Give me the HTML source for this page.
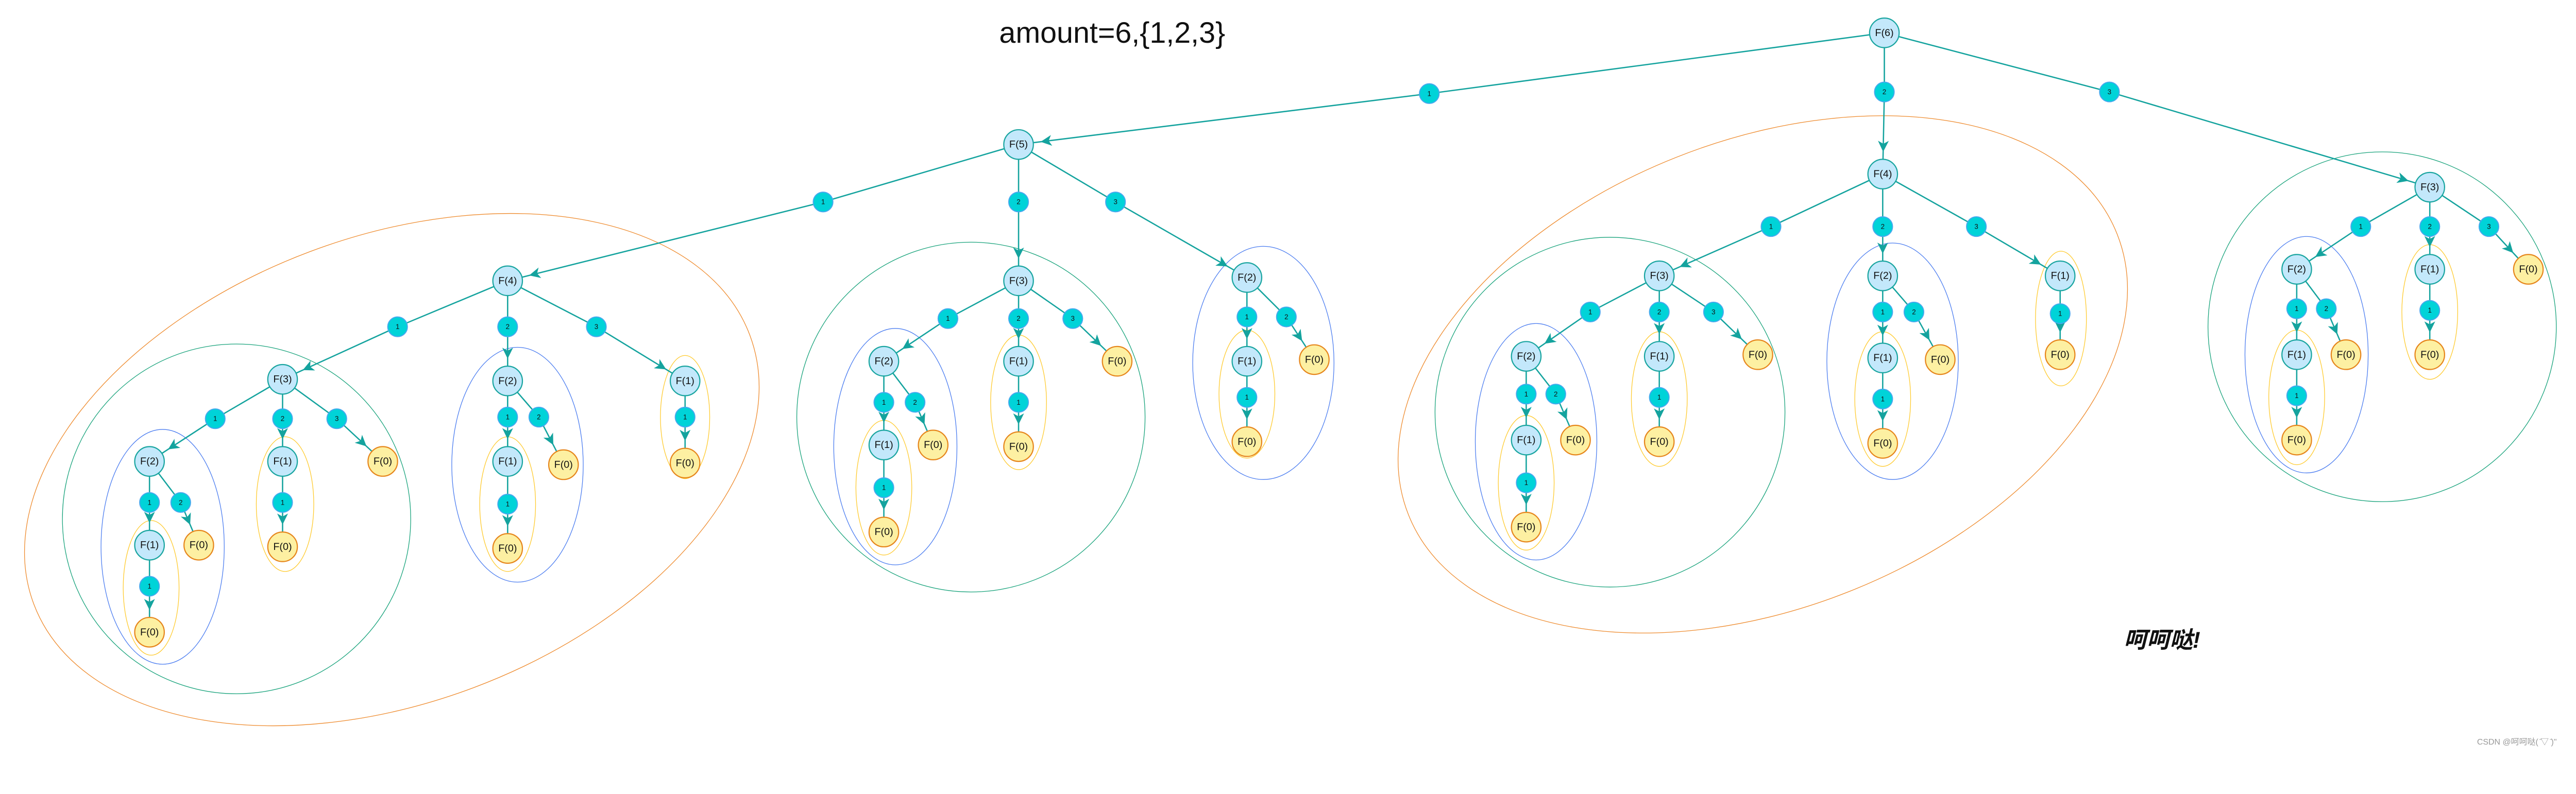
<!DOCTYPE html>
<html><head><meta charset="utf-8"><style>
html,body{margin:0;padding:0;background:#fff;width:100%;height:100%;overflow:hidden;}
svg{display:block;position:absolute;left:0;top:0;width:100vw;height:calc(100vw * 0.291604);}
.e{fill:none;stroke:#14a39e;stroke-width:0.8;marker-end:url(#ar);}
.n{fill:#c3e8fb;stroke:#19a5a0;stroke-width:0.7;}
.z{fill:#fdf0a2;stroke:#e6861c;stroke-width:0.7;}
.l{fill:#00d3d8;stroke:#48a8ee;stroke-width:0.6;}
.t{font-family:"Liberation Sans","DejaVu Sans",sans-serif;font-size:6.2px;fill:#111;text-anchor:middle;dominant-baseline:central;}
.s{font-family:"Liberation Sans","DejaVu Sans",sans-serif;font-size:4.2px;fill:#111;text-anchor:middle;dominant-baseline:central;}
.go{fill:none;stroke:#ee8a2c;stroke-width:0.4;}
.gg{fill:none;stroke:#16a27a;stroke-width:0.4;}
.gb{fill:none;stroke:#4a7cf0;stroke-width:0.4;}
.gy{fill:none;stroke:#ffca2c;stroke-width:0.4;}
</style></head><body>
<svg viewBox="0 0 1568 457.2" preserveAspectRatio="none" xmlns="http://www.w3.org/2000/svg">
<defs><marker id="ar" markerUnits="userSpaceOnUse" orient="auto" refX="0" refY="0" markerWidth="30" markerHeight="30" viewBox="-20 -5 20 10" overflow="visible"><path d="M-13.5,-2.2 L-9,0 L-13.5,2.2 L-12.3,0 Z" fill="#14a39e"/></marker></defs>

<text x="677" y="20" style="font-family:'Liberation Sans',sans-serif;font-size:18px;fill:#111;text-anchor:middle;dominant-baseline:central;">amount=6,{1,2,3}</text>
<text x="1316" y="390" style="font-family:'Liberation Sans','Noto Sans CJK SC',sans-serif;font-size:14px;font-style:italic;font-weight:bold;fill:#111;text-anchor:middle;dominant-baseline:central;">呵呵哒!</text>
<text x="1532" y="452" style="font-family:'Liberation Sans','Noto Sans CJK SC',sans-serif;font-size:5px;fill:#999;text-anchor:middle;dominant-baseline:central;">CSDN @呵呵哒( ̄▽ ̄)"</text>

<ellipse class="go" cx="238.5" cy="286" rx="232.8" ry="141.8" transform="rotate(-20.6 238.5 286)"/>
<ellipse class="go" cx="1073" cy="228" rx="232" ry="142.3" transform="rotate(-21.6 1073 228)"/>
<ellipse class="gg" cx="144" cy="316" rx="106" ry="106.5"/>
<ellipse class="gg" cx="591" cy="254" rx="106" ry="106.5"/>
<ellipse class="gg" cx="980" cy="251" rx="106.5" ry="106.5"/>
<ellipse class="gg" cx="1450" cy="199" rx="106" ry="106.5"/>
<ellipse class="gb" cx="99" cy="333" rx="37.5" ry="71.5"/>
<ellipse class="gb" cx="315" cy="283" rx="40" ry="71.5"/>
<ellipse class="gb" cx="545" cy="272" rx="37.5" ry="72"/>
<ellipse class="gb" cx="769" cy="221" rx="43" ry="71"/>
<ellipse class="gb" cx="935" cy="269" rx="37" ry="72"/>
<ellipse class="gb" cx="1152" cy="220" rx="40" ry="72"/>
<ellipse class="gb" cx="1404" cy="216" rx="37.5" ry="72"/>
<ellipse class="gy" cx="92" cy="358" rx="17" ry="41"/>
<ellipse class="gy" cx="173.5" cy="307" rx="17.5" ry="41"/>
<ellipse class="gy" cx="309" cy="307" rx="17" ry="41"/>
<ellipse class="gy" cx="417" cy="254" rx="15" ry="37.5"/>
<ellipse class="gy" cx="538" cy="297" rx="17" ry="41"/>
<ellipse class="gy" cx="620" cy="245" rx="17" ry="41"/>
<ellipse class="gy" cx="759" cy="240" rx="17" ry="39"/>
<ellipse class="gy" cx="929" cy="294" rx="17" ry="41"/>
<ellipse class="gy" cx="1010" cy="243" rx="17" ry="41"/>
<ellipse class="gy" cx="1146" cy="243" rx="17" ry="41"/>
<ellipse class="gy" cx="1254.5" cy="194" rx="15.5" ry="41"/>
<ellipse class="gy" cx="1398" cy="242" rx="17" ry="41"/>
<ellipse class="gy" cx="1479" cy="190" rx="17" ry="41"/>

<polyline class="e" points="1147,20 870,57 620,88"/>
<polyline class="e" points="1147,20 1147,56 1146,106"/>
<polyline class="e" points="1147,20 1284,56 1479,114"/>
<polyline class="e" points="620,88 501,123 309,171"/>
<polyline class="e" points="620,88 620,123 620,171"/>
<polyline class="e" points="620,88 679,123 759,169"/>
<polyline class="e" points="309,171 242,199 172,231"/>
<polyline class="e" points="309,171 309,199 309,232"/>
<polyline class="e" points="309,171 363,199 417,232"/>
<polyline class="e" points="172,231 131,255 91,281"/>
<polyline class="e" points="172,231 172,255 172,281"/>
<polyline class="e" points="172,231 205,255 233,281"/>
<polyline class="e" points="91,281 91,306 91,332"/>
<polyline class="e" points="91,281 110,306 121,332"/>
<polyline class="e" points="91,332 91,357 91,385"/>
<polyline class="e" points="172,281 172,306 172,333"/>
<polyline class="e" points="309,232 309,254 309,281"/>
<polyline class="e" points="309,232 328,254 343,283"/>
<polyline class="e" points="309,281 309,307 309,334"/>
<polyline class="e" points="417,232 417,254 417,282"/>
<polyline class="e" points="620,171 577,194 538,220"/>
<polyline class="e" points="620,171 620,194 620,220"/>
<polyline class="e" points="620,171 653,194 680,220"/>
<polyline class="e" points="538,220 538,245 538,271"/>
<polyline class="e" points="538,220 557,245 568,271"/>
<polyline class="e" points="538,271 538,297 538,324"/>
<polyline class="e" points="620,220 620,245 620,272"/>
<polyline class="e" points="759,169 759,193 759,220"/>
<polyline class="e" points="759,169 783,193 800,219"/>
<polyline class="e" points="759,220 759,242 759,269"/>
<polyline class="e" points="1146,106 1078,138 1010,168"/>
<polyline class="e" points="1146,106 1146,138 1146,168"/>
<polyline class="e" points="1146,106 1203,138 1254,168"/>
<polyline class="e" points="1010,168 968,190 929,217"/>
<polyline class="e" points="1010,168 1010,190 1010,217"/>
<polyline class="e" points="1010,168 1043,190 1070,216"/>
<polyline class="e" points="929,217 929,240 929,268"/>
<polyline class="e" points="929,217 947,240 959,268"/>
<polyline class="e" points="929,268 929,294 929,321"/>
<polyline class="e" points="1010,217 1010,242 1010,269"/>
<polyline class="e" points="1146,168 1146,190 1146,218"/>
<polyline class="e" points="1146,168 1165,190 1181,219"/>
<polyline class="e" points="1146,218 1146,243 1146,270"/>
<polyline class="e" points="1254,168 1254,191 1254,216"/>
<polyline class="e" points="1479,114 1437,138 1398,164"/>
<polyline class="e" points="1479,114 1479,138 1479,164"/>
<polyline class="e" points="1479,114 1515,138 1539,164"/>
<polyline class="e" points="1398,164 1398,188 1398,216"/>
<polyline class="e" points="1398,164 1416,188 1428,216"/>
<polyline class="e" points="1398,216 1398,241 1398,268"/>
<polyline class="e" points="1479,164 1479,189 1479,216"/>

<g>
<circle class="l" cx="870" cy="57" r="6"/><text class="s" x="870" y="57">1</text>
<circle class="l" cx="1147" cy="56" r="6"/><text class="s" x="1147" y="56">2</text>
<circle class="l" cx="1284" cy="56" r="6"/><text class="s" x="1284" y="56">3</text>
<circle class="l" cx="501" cy="123" r="6"/><text class="s" x="501" y="123">1</text>
<circle class="l" cx="620" cy="123" r="6"/><text class="s" x="620" y="123">2</text>
<circle class="l" cx="679" cy="123" r="6"/><text class="s" x="679" y="123">3</text>
<circle class="l" cx="242" cy="199" r="6"/><text class="s" x="242" y="199">1</text>
<circle class="l" cx="309" cy="199" r="6"/><text class="s" x="309" y="199">2</text>
<circle class="l" cx="363" cy="199" r="6"/><text class="s" x="363" y="199">3</text>
<circle class="l" cx="131" cy="255" r="6"/><text class="s" x="131" y="255">1</text>
<circle class="l" cx="172" cy="255" r="6"/><text class="s" x="172" y="255">2</text>
<circle class="l" cx="205" cy="255" r="6"/><text class="s" x="205" y="255">3</text>
<circle class="l" cx="91" cy="306" r="6"/><text class="s" x="91" y="306">1</text>
<circle class="l" cx="110" cy="306" r="6"/><text class="s" x="110" y="306">2</text>
<circle class="l" cx="91" cy="357" r="6"/><text class="s" x="91" y="357">1</text>
<circle class="l" cx="172" cy="306" r="6"/><text class="s" x="172" y="306">1</text>
<circle class="l" cx="309" cy="254" r="6"/><text class="s" x="309" y="254">1</text>
<circle class="l" cx="328" cy="254" r="6"/><text class="s" x="328" y="254">2</text>
<circle class="l" cx="309" cy="307" r="6"/><text class="s" x="309" y="307">1</text>
<circle class="l" cx="417" cy="254" r="6"/><text class="s" x="417" y="254">1</text>
<circle class="l" cx="577" cy="194" r="6"/><text class="s" x="577" y="194">1</text>
<circle class="l" cx="620" cy="194" r="6"/><text class="s" x="620" y="194">2</text>
<circle class="l" cx="653" cy="194" r="6"/><text class="s" x="653" y="194">3</text>
<circle class="l" cx="538" cy="245" r="6"/><text class="s" x="538" y="245">1</text>
<circle class="l" cx="557" cy="245" r="6"/><text class="s" x="557" y="245">2</text>
<circle class="l" cx="538" cy="297" r="6"/><text class="s" x="538" y="297">1</text>
<circle class="l" cx="620" cy="245" r="6"/><text class="s" x="620" y="245">1</text>
<circle class="l" cx="759" cy="193" r="6"/><text class="s" x="759" y="193">1</text>
<circle class="l" cx="783" cy="193" r="6"/><text class="s" x="783" y="193">2</text>
<circle class="l" cx="759" cy="242" r="6"/><text class="s" x="759" y="242">1</text>
<circle class="l" cx="1078" cy="138" r="6"/><text class="s" x="1078" y="138">1</text>
<circle class="l" cx="1146" cy="138" r="6"/><text class="s" x="1146" y="138">2</text>
<circle class="l" cx="1203" cy="138" r="6"/><text class="s" x="1203" y="138">3</text>
<circle class="l" cx="968" cy="190" r="6"/><text class="s" x="968" y="190">1</text>
<circle class="l" cx="1010" cy="190" r="6"/><text class="s" x="1010" y="190">2</text>
<circle class="l" cx="1043" cy="190" r="6"/><text class="s" x="1043" y="190">3</text>
<circle class="l" cx="929" cy="240" r="6"/><text class="s" x="929" y="240">1</text>
<circle class="l" cx="947" cy="240" r="6"/><text class="s" x="947" y="240">2</text>
<circle class="l" cx="929" cy="294" r="6"/><text class="s" x="929" y="294">1</text>
<circle class="l" cx="1010" cy="242" r="6"/><text class="s" x="1010" y="242">1</text>
<circle class="l" cx="1146" cy="190" r="6"/><text class="s" x="1146" y="190">1</text>
<circle class="l" cx="1165" cy="190" r="6"/><text class="s" x="1165" y="190">2</text>
<circle class="l" cx="1146" cy="243" r="6"/><text class="s" x="1146" y="243">1</text>
<circle class="l" cx="1254" cy="191" r="6"/><text class="s" x="1254" y="191">1</text>
<circle class="l" cx="1437" cy="138" r="6"/><text class="s" x="1437" y="138">1</text>
<circle class="l" cx="1479" cy="138" r="6"/><text class="s" x="1479" y="138">2</text>
<circle class="l" cx="1515" cy="138" r="6"/><text class="s" x="1515" y="138">3</text>
<circle class="l" cx="1398" cy="188" r="6"/><text class="s" x="1398" y="188">1</text>
<circle class="l" cx="1416" cy="188" r="6"/><text class="s" x="1416" y="188">2</text>
<circle class="l" cx="1398" cy="241" r="6"/><text class="s" x="1398" y="241">1</text>
<circle class="l" cx="1479" cy="189" r="6"/><text class="s" x="1479" y="189">1</text>
</g>

<g>
<circle class="n" cx="1147" cy="20" r="9"/><text class="t" x="1147" y="20">F(6)</text>
<circle class="n" cx="620" cy="88" r="9"/><text class="t" x="620" y="88">F(5)</text>
<circle class="n" cx="1146" cy="106" r="9"/><text class="t" x="1146" y="106">F(4)</text>
<circle class="n" cx="1479" cy="114" r="9"/><text class="t" x="1479" y="114">F(3)</text>
<circle class="n" cx="309" cy="171" r="9"/><text class="t" x="309" y="171">F(4)</text>
<circle class="n" cx="172" cy="231" r="9"/><text class="t" x="172" y="231">F(3)</text>
<circle class="n" cx="91" cy="281" r="9"/><text class="t" x="91" y="281">F(2)</text>
<circle class="n" cx="91" cy="332" r="9"/><text class="t" x="91" y="332">F(1)</text>
<circle class="z" cx="91" cy="385" r="9"/><text class="t" x="91" y="385">F(0)</text>
<circle class="z" cx="121" cy="332" r="9"/><text class="t" x="121" y="332">F(0)</text>
<circle class="n" cx="172" cy="281" r="9"/><text class="t" x="172" y="281">F(1)</text>
<circle class="z" cx="172" cy="333" r="9"/><text class="t" x="172" y="333">F(0)</text>
<circle class="z" cx="233" cy="281" r="9"/><text class="t" x="233" y="281">F(0)</text>
<circle class="n" cx="309" cy="232" r="9"/><text class="t" x="309" y="232">F(2)</text>
<circle class="n" cx="309" cy="281" r="9"/><text class="t" x="309" y="281">F(1)</text>
<circle class="z" cx="309" cy="334" r="9"/><text class="t" x="309" y="334">F(0)</text>
<circle class="z" cx="343" cy="283" r="9"/><text class="t" x="343" y="283">F(0)</text>
<circle class="n" cx="417" cy="232" r="9"/><text class="t" x="417" y="232">F(1)</text>
<circle class="z" cx="417" cy="282" r="9"/><text class="t" x="417" y="282">F(0)</text>
<circle class="n" cx="620" cy="171" r="9"/><text class="t" x="620" y="171">F(3)</text>
<circle class="n" cx="538" cy="220" r="9"/><text class="t" x="538" y="220">F(2)</text>
<circle class="n" cx="538" cy="271" r="9"/><text class="t" x="538" y="271">F(1)</text>
<circle class="z" cx="538" cy="324" r="9"/><text class="t" x="538" y="324">F(0)</text>
<circle class="z" cx="568" cy="271" r="9"/><text class="t" x="568" y="271">F(0)</text>
<circle class="n" cx="620" cy="220" r="9"/><text class="t" x="620" y="220">F(1)</text>
<circle class="z" cx="620" cy="272" r="9"/><text class="t" x="620" y="272">F(0)</text>
<circle class="z" cx="680" cy="220" r="9"/><text class="t" x="680" y="220">F(0)</text>
<circle class="n" cx="759" cy="169" r="9"/><text class="t" x="759" y="169">F(2)</text>
<circle class="n" cx="759" cy="220" r="9"/><text class="t" x="759" y="220">F(1)</text>
<circle class="z" cx="759" cy="269" r="9"/><text class="t" x="759" y="269">F(0)</text>
<circle class="z" cx="800" cy="219" r="9"/><text class="t" x="800" y="219">F(0)</text>
<circle class="n" cx="1010" cy="168" r="9"/><text class="t" x="1010" y="168">F(3)</text>
<circle class="n" cx="929" cy="217" r="9"/><text class="t" x="929" y="217">F(2)</text>
<circle class="n" cx="929" cy="268" r="9"/><text class="t" x="929" y="268">F(1)</text>
<circle class="z" cx="929" cy="321" r="9"/><text class="t" x="929" y="321">F(0)</text>
<circle class="z" cx="959" cy="268" r="9"/><text class="t" x="959" y="268">F(0)</text>
<circle class="n" cx="1010" cy="217" r="9"/><text class="t" x="1010" y="217">F(1)</text>
<circle class="z" cx="1010" cy="269" r="9"/><text class="t" x="1010" y="269">F(0)</text>
<circle class="z" cx="1070" cy="216" r="9"/><text class="t" x="1070" y="216">F(0)</text>
<circle class="n" cx="1146" cy="168" r="9"/><text class="t" x="1146" y="168">F(2)</text>
<circle class="n" cx="1146" cy="218" r="9"/><text class="t" x="1146" y="218">F(1)</text>
<circle class="z" cx="1146" cy="270" r="9"/><text class="t" x="1146" y="270">F(0)</text>
<circle class="z" cx="1181" cy="219" r="9"/><text class="t" x="1181" y="219">F(0)</text>
<circle class="n" cx="1254" cy="168" r="9"/><text class="t" x="1254" y="168">F(1)</text>
<circle class="z" cx="1254" cy="216" r="9"/><text class="t" x="1254" y="216">F(0)</text>
<circle class="n" cx="1398" cy="164" r="9"/><text class="t" x="1398" y="164">F(2)</text>
<circle class="n" cx="1398" cy="216" r="9"/><text class="t" x="1398" y="216">F(1)</text>
<circle class="z" cx="1398" cy="268" r="9"/><text class="t" x="1398" y="268">F(0)</text>
<circle class="z" cx="1428" cy="216" r="9"/><text class="t" x="1428" y="216">F(0)</text>
<circle class="n" cx="1479" cy="164" r="9"/><text class="t" x="1479" y="164">F(1)</text>
<circle class="z" cx="1479" cy="216" r="9"/><text class="t" x="1479" y="216">F(0)</text>
<circle class="z" cx="1539" cy="164" r="9"/><text class="t" x="1539" y="164">F(0)</text>
</g>
</svg>
</body></html>
